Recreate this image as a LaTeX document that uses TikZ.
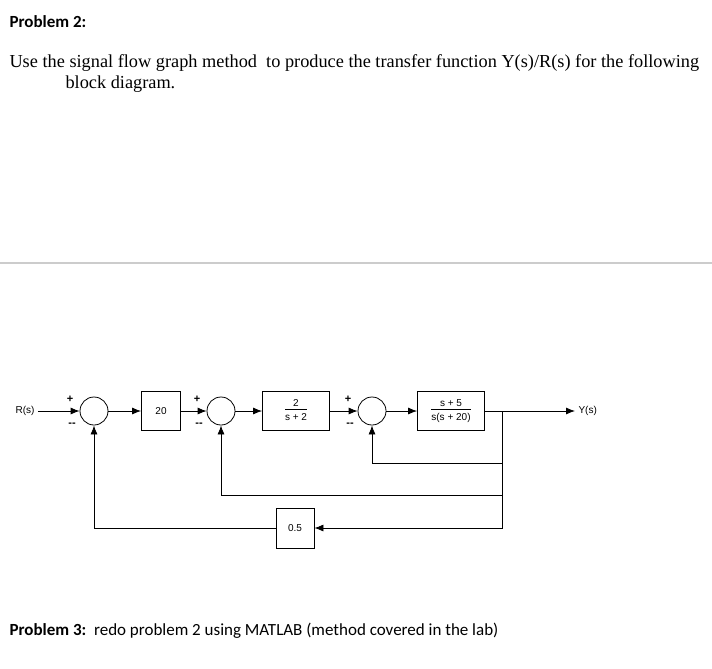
\documentclass[tikz,border=0pt]{standalone}
\usepackage{fontspec}
\setmainfont{Liberation Serif}
\newfontfamily\calib{Carlito}
\newfontfamily\arial{Liberation Sans}
\usetikzlibrary{arrows.meta,positioning,calc}
\tikzset{
    block/.style = {draw, rectangle, thick, minimum height=39pt, minimum width=39pt, align=center, font=\arial\fontsize{10}{11}\selectfont},
    sum/.style = {draw, circle, thick, minimum size=28pt, inner sep=0pt},
    arrow/.style = {draw, thick, -{Latex[length=9pt,width=7pt]}},
    line/.style = {draw, thick},
    sign/.style = {font=\arial\fontsize{11}{12}\selectfont\bfseries},
    lbl/.style = {font=\arial\fontsize{10}{11}\selectfont}
}
\newcommand{\blockfrac}[2]{\begin{tabular}{@{}c@{}}#1\\[-1pt]\hline\rule{0pt}{11pt}#2\end{tabular}}
\begin{document}
\begin{tikzpicture}[x=1pt,y=-1pt]
    \useasboundingbox (0,0) rectangle (712,669);
    % heading
    \node [anchor=west, font=\calib\bfseries\fontsize{17}{20}\selectfont] (p2) at (6,22) {Problem 2:};
    \node [anchor=west, font=\fontsize{18.3}{21}\selectfont] (q1) at (6,63) {Use the signal flow graph method\ \ to produce the transfer function Y(s)/R(s) for the following};
    \node [anchor=west, font=\fontsize{18.3}{21}\selectfont] (q2) at (62,84) {block diagram.};
    \draw [gray!40, line width=1.5pt] (0,263) -- (712,263);
    % blocks
    \node [lbl] (r) at (25,411) {R(s)};
    \node [sum] (s1) at (94,411) {};
    \node [block, minimum width=39pt] (g1) at (161,411) {20};
    \node [sum] (s2) at (221,411) {};
    \node [block, minimum width=67pt] (g2) at (296,411) {\blockfrac{2}{s + 2}};
    \node [sum] (s3) at (372,411) {};
    \node [block, minimum width=67pt] (g3) at (451,411) {\blockfrac{s + 5}{s(s + 20)}};
    \node [lbl, anchor=west] (y) at (575,411) {Y(s)};
    \node [block, minimum width=38pt, minimum height=40pt] (h) at (295,528) {0.5};
    \coordinate (br) at (502,411);
    % signs
    \node [sign] at ($(s1)+(-24,-12)$) {+};
    \node [sign] at ($(s1)+(-22,14)$) {--};
    \node [sign] at ($(s2)+(-24,-12)$) {+};
    \node [sign] at ($(s2)+(-22,14)$) {--};
    \node [sign] at ($(s3)+(-24,-12)$) {+};
    \node [sign] at ($(s3)+(-22,14)$) {--};
    % forward path
    \draw [arrow] (r) -- (s1);
    \draw [arrow] (s1) -- (g1);
    \draw [arrow] (g1) -- (s2);
    \draw [arrow] (s2) -- (g2);
    \draw [arrow] (g2) -- (s3);
    \draw [arrow] (s3) -- (g3);
    \draw [arrow] (g3) -- (y);
    % feedback paths
    \draw [arrow] (br) |- (h.east);
    \draw [arrow] (br |- 0,463) -| (s3);
    \draw [arrow] (br |- 0,495) -| (s2);
    \draw [arrow] (h.west) -| (s1);
    % problem 3
    \node [anchor=west, font=\calib\fontsize{17}{20}\selectfont] (p3) at (6,631) {\textbf{Problem 3:}\ \ redo problem 2 using MATLAB (method covered in the lab)};
\end{tikzpicture}
\end{document}
